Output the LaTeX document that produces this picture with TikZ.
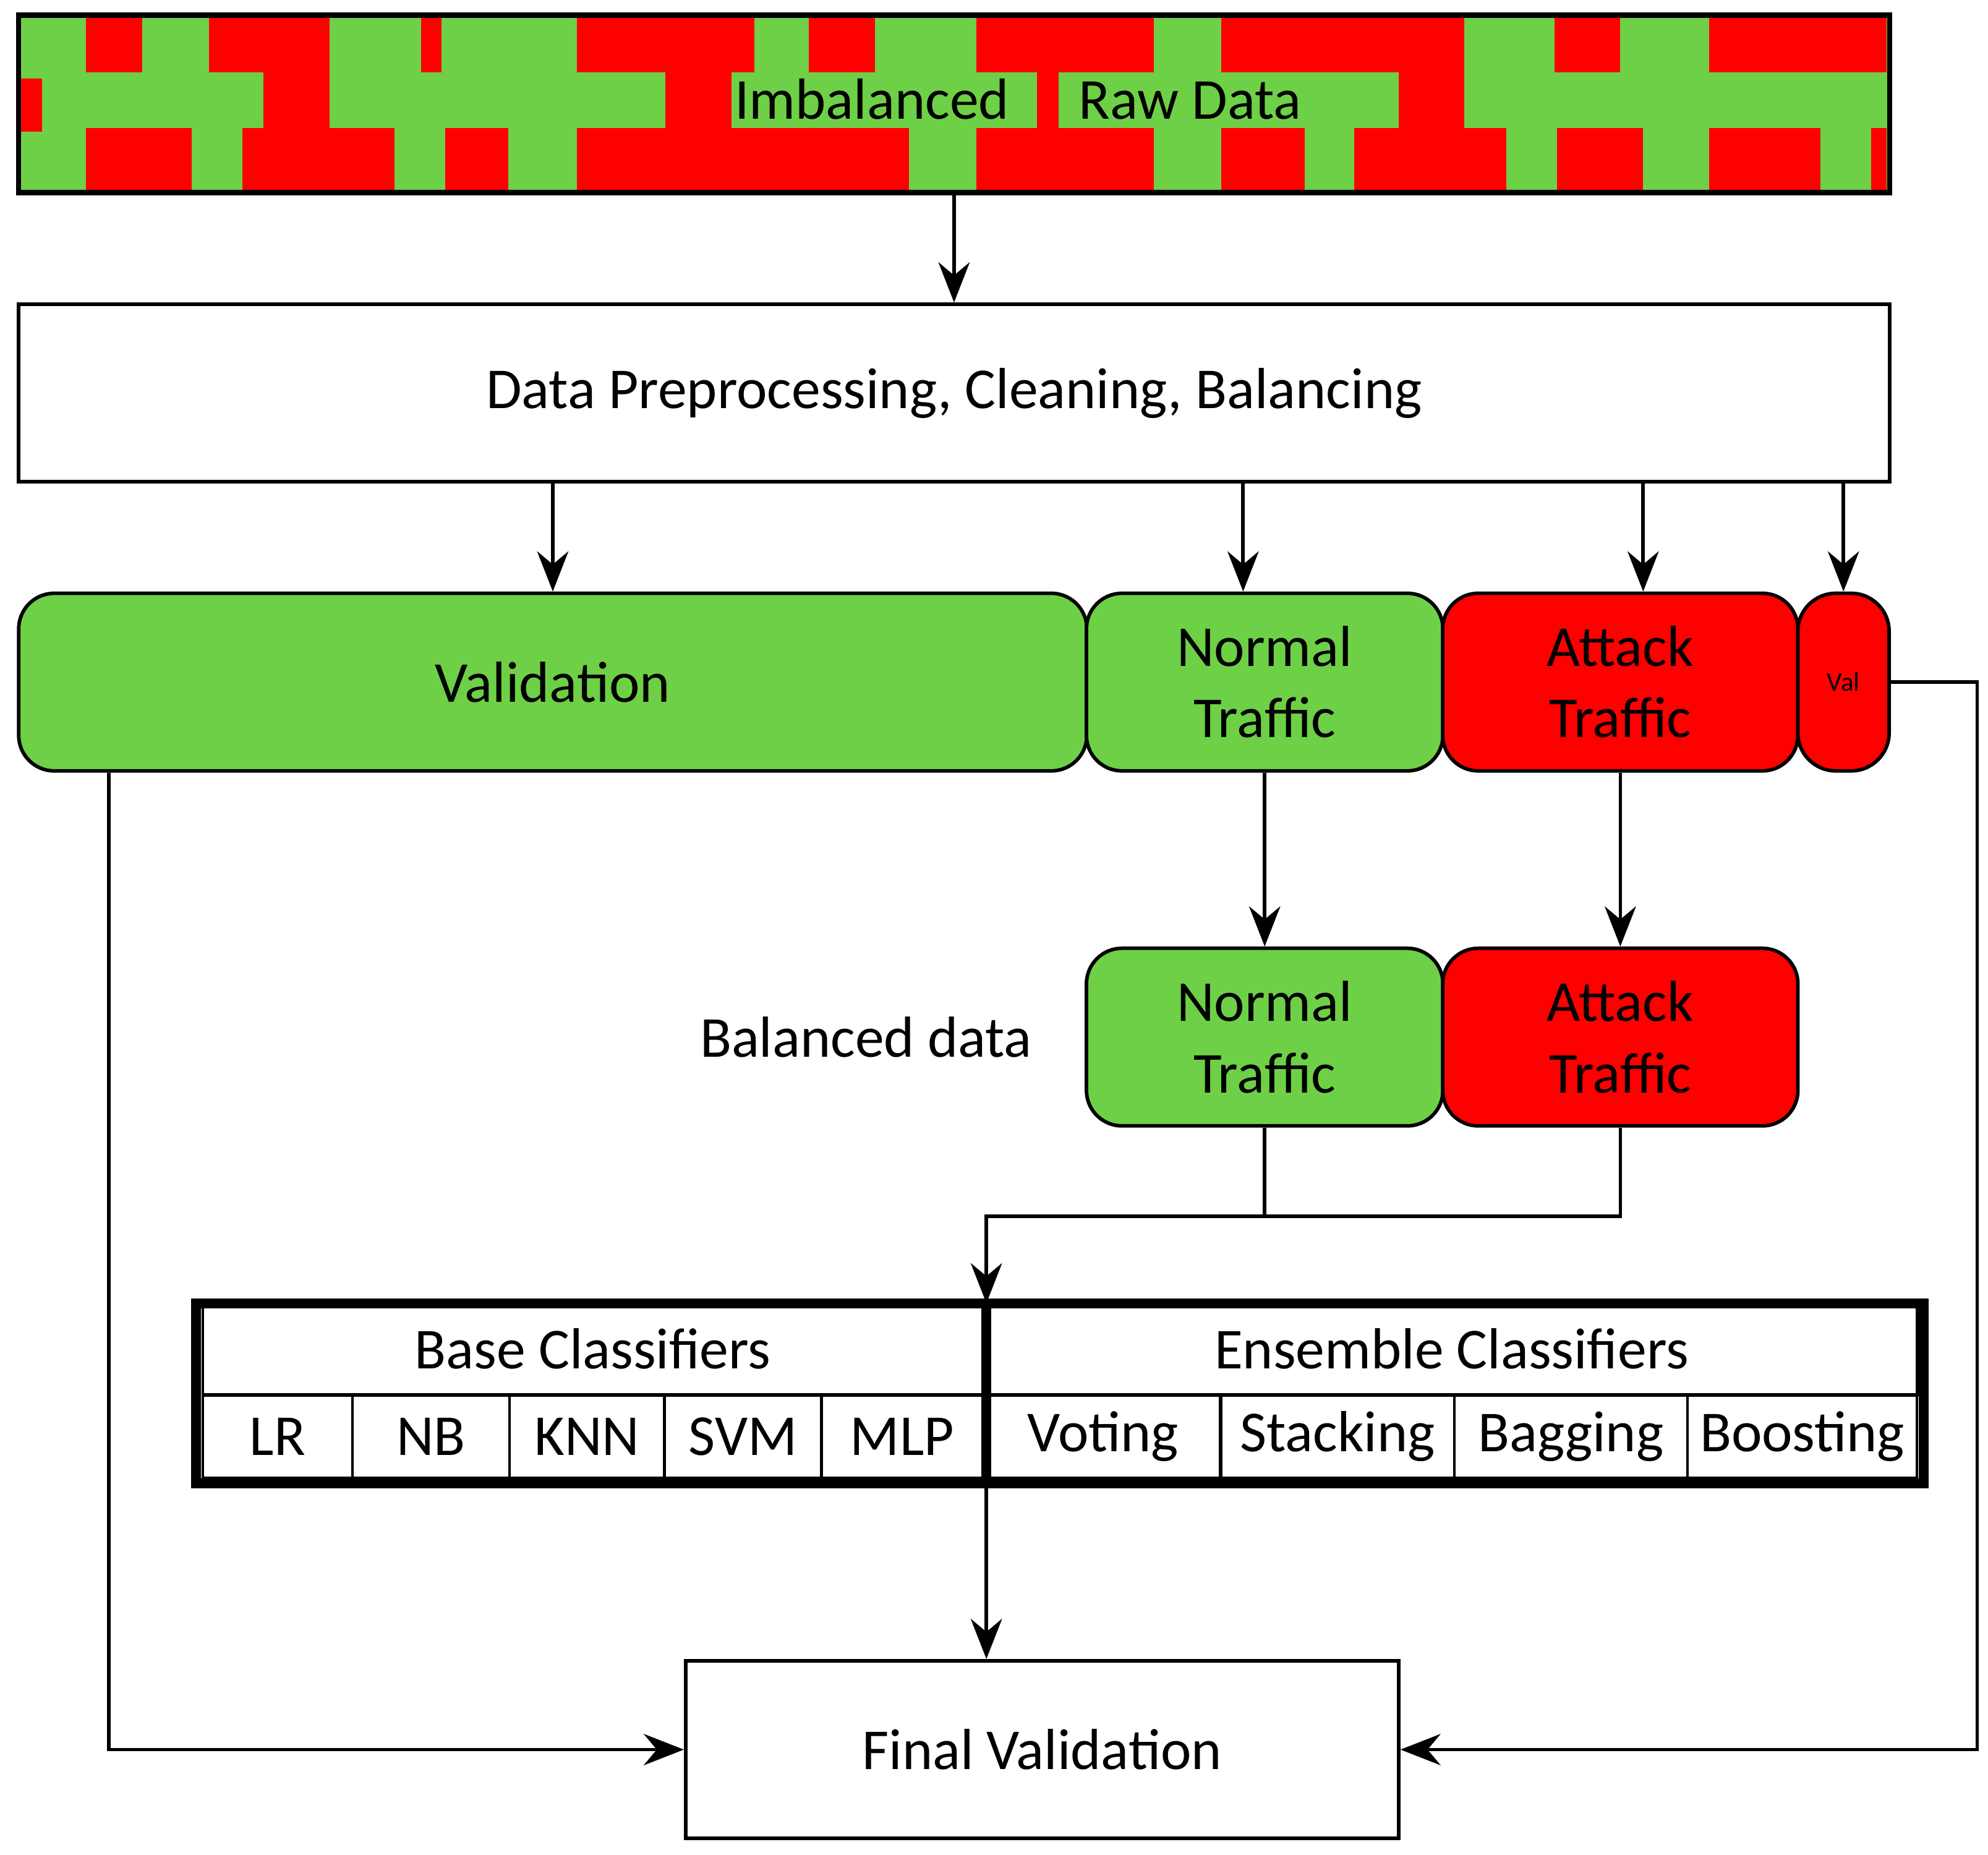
\documentclass[tikz,border=0pt]{standalone}
\usepackage{fontspec}
\setmainfont{Carlito}
\usetikzlibrary{arrows.meta}
\definecolor{okgreen}{RGB}{110,208,70}
\definecolor{badred}{RGB}{255,0,0}
\tikzset{
  arr/.style={line width=0.8pt,-{Stealth[length=9pt,width=7pt]}},
  line/.style={line width=0.8pt},
  box/.style={draw,line width=0.8pt,font=\fontsize{13}{16}\selectfont,align=center,inner sep=0pt},
  blk/.style={box,rounded corners=0.28cm,minimum height=1.4cm},
  cell/.style={draw,line width=0.6pt,font=\fontsize{13}{16}\selectfont,inner sep=0pt,minimum height=0.65cm}
}
\begin{document}
\begin{tikzpicture}[x=0.01cm,y=-0.01cm]
\useasboundingbox (0,0) rectangle (1568,1463);

% imbalanced raw data strip
\fill[okgreen] (15,12) rectangle (1490,152);
\foreach \a/\b in {68/112,165/260,332/348,455/595,638/690,770/910,963/1155,1226/1278,1348/1488}
  \fill[badred] (\a,12) rectangle (\b,57);
\foreach \a/\b in {208/260,525/577,818/835,1103/1155}
  \fill[badred] (\a,57) rectangle (\b,101);
\fill[badred] (15,62) rectangle (33,104);
\foreach \a/\b in {68/151,191/311,351/401,455/717,770/910,963/1029,1068/1188,1228/1296,1348/1436,1476/1488}
  \fill[badred] (\a,101) rectangle (\b,152);
\node[draw,line width=1.2pt,minimum width=14.75cm,minimum height=1.4cm,inner sep=0pt] (raw) at (752.5,82) {};
\node[font=\fontsize{13}{16}\selectfont] (rawtxt) at (803,78) {Imbalanced\hspace{1.2em}Raw Data};

\node[box,minimum width=14.75cm,minimum height=1.4cm] (prep) at (752.5,310) {Data Preprocessing, Cleaning, Balancing};

\node[blk,fill=okgreen,minimum width=8.42cm] (vali) at (436,538) {Validation};
\node[blk,fill=okgreen,minimum width=2.81cm] (norm) at (997.5,538) {Normal\\Traffic};
\node[blk,fill=badred,minimum width=2.80cm] (att) at (1278,538) {Attack\\Traffic};
\node[blk,fill=badred,minimum width=0.72cm,rounded corners=0.3cm,font=\fontsize{6}{7}\selectfont] (val) at (1454,538) {Val};

\node[font=\fontsize{13}{16}\selectfont] (baltxt) at (683,818) {Balanced data};
\node[blk,fill=okgreen,minimum width=2.81cm] (bnorm) at (997.5,818) {Normal\\Traffic};
\node[blk,fill=badred,minimum width=2.80cm] (batt) at (1278,818) {Attack\\Traffic};

% classifier table
\node[cell,minimum width=6.15cm,minimum height=0.72cm] (base) at (467.5,1064) {Base Classifiers};
\node[cell,minimum width=7.34cm,minimum height=0.72cm] (ens) at (1145,1064) {Ensemble Classifiers};
\foreach \x/\w/\t/\n in {219/1.18/LR/lr,340/1.24/NB/nb,463/1.22/KNN/knn,586/1.24/SVM/svm,711.5/1.27/MLP/mlp,
  870/1.85/Voting/vot,1055/1.84/Stacking/stk,1239/1.84/Bagging/bag,1421.5/1.81/Boosting/bst}
  \node[cell,minimum width=\w cm] (\n) at (\x,1133) {\t};
\node[draw,line width=2.2pt,minimum width=13.62cm,minimum height=1.42cm,inner sep=0pt] (clf) at (836,1099) {};
\coordinate (split) at (778,1028);
\draw[line width=2.2pt] (split) -- (split |- clf.south);

\node[box,minimum width=5.62cm,minimum height=1.4cm] (final) at (822,1380) {Final Validation};

% connectors
\draw[arr] (raw.south -| prep.north) -- (prep.north);
\draw[arr] (prep.south -| vali.north) -- (vali.north);
\draw[arr] ([xshift=-0.17cm]norm.north |- prep.south) -- ([xshift=-0.17cm]norm.north);
\draw[arr] ([xshift=0.18cm]att.north |- prep.south) -- ([xshift=0.18cm]att.north);
\draw[arr] (prep.south -| val.north) -- (val.north);
\draw[arr] (norm) -- (bnorm);
\draw[arr] (att) -- (batt);
\draw[line] (bnorm.south) -- ++(0,70) -| (split);
\draw[arr] (bnorm.south) ++(0,70) -| (split);
\draw[line] (batt.south) |- ([yshift=-0.7cm]bnorm.south);
\draw[arr] (split |- clf.south) -- (split |- final.north);
\draw[arr] ([xshift=-3.5cm]vali.south) |- (final.west);
\draw[arr] (val.east) -- ++(68,0) |- (final.east);
\end{tikzpicture}
\end{document}
